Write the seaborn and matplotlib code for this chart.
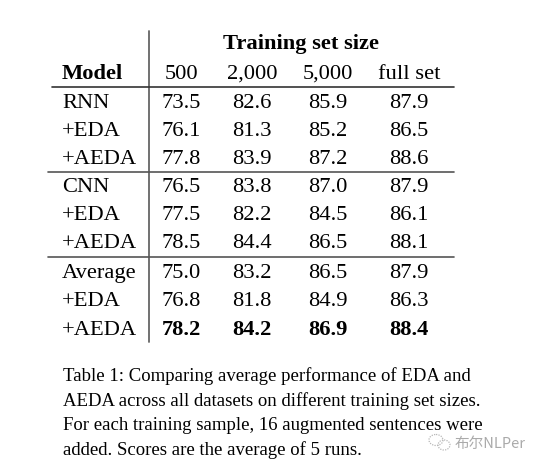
import matplotlib
matplotlib.use("Agg")
import matplotlib.pyplot as plt
import seaborn as sns
from matplotlib.patches import Ellipse

# table contents
col_labels = ["500", "2,000", "5,000", "full set"]
row_labels = ["RNN", "+EDA", "+AEDA", "CNN", "+EDA", "+AEDA", "Average", "+EDA", "+AEDA"]
rnn = [[73.5, 82.6, 85.9, 87.9], [76.1, 81.3, 85.2, 86.5], [77.8, 83.9, 87.2, 88.6]]
cnn = [[76.5, 83.8, 87.0, 87.9], [77.5, 82.2, 84.5, 86.1], [78.5, 84.4, 86.5, 88.1]]
avg = [[75.0, 83.2, 86.5, 87.9], [76.8, 81.8, 84.9, 86.3], [78.2, 84.2, 86.9, 88.4]]
caption = ["Table 1: Comparing average performance of EDA and",
           "AEDA across all datasets on different training set sizes.",
           "For each training sample, 16 augmented sentences were",
           "added. Scores are the average of 5 runs."]

sns.set_theme(style="white")
plt.rcParams['font.family'] = ['Liberation Serif', 'DejaVu Serif']
plt.rcParams['text.color'] = 'black'

fig = plt.figure(figsize=(5.33, 4.64), dpi=100)
ax = fig.add_axes([0, 0, 1, 1])
ax.set_xlim(0, 533)
ax.set_ylim(464, 0)
ax.axis('off')

fs = 16.2
col_x = [181, 252, 328, 409]
ax.text(301, 49, "Training set size", fontsize=fs, fontweight='bold', ha='center', va='baseline')
ax.text(62, 79, "Model", fontsize=fs, fontweight='bold', ha='left', va='baseline')
for x, lab in zip(col_x, col_labels):
    ax.text(x, 79, lab, fontsize=fs, ha='center', va='baseline')

rows = rnn + cnn + avg
row_y = [108, 136, 164, 192, 220.5, 248.5, 278, 306.5, 335]
for i, (y, name, vals) in enumerate(zip(row_y, row_labels, rows)):
    ax.text(62, y, name, fontsize=fs, ha='left', va='baseline')
    bold = i == len(rows) - 1
    for x, v in zip(col_x, vals):
        ax.text(x, y, f"{v:.1f}", fontsize=fs, ha='center', va='baseline',
                fontweight='bold' if bold else 'normal')

ax.plot([149, 149], [32, 343], color='#666666', lw=1.3)
ax.plot([52, 454], [87.5, 87.5], color='#333333', lw=1.2)
ax.plot([48, 454], [172.5, 172.5], color='#555555', lw=1.2)
ax.plot([48, 454], [258, 258], color='#555555', lw=1.2)

for k, line in enumerate(caption):
    ax.text(63, 381.5 + k * 24.4, line, fontsize=13.5, ha='left', va='baseline')

# watermark
ax.add_patch(Ellipse((436, 441), 14, 11, fill=False, ec='#b8b8b8', lw=0.9, ls=(0, (1, 1))))
ax.add_patch(Ellipse((444, 446), 12, 10, fill=False, ec='#b8b8b8', lw=0.9, ls=(0, (1, 1))))
ax.text(455, 444, "布尔NLPer", fontsize=10.5, color='#aaaaaa', ha='left', va='center',
        family=['Noto Sans CJK SC', 'DejaVu Sans'])

fig.savefig("out.png", dpi=100)
